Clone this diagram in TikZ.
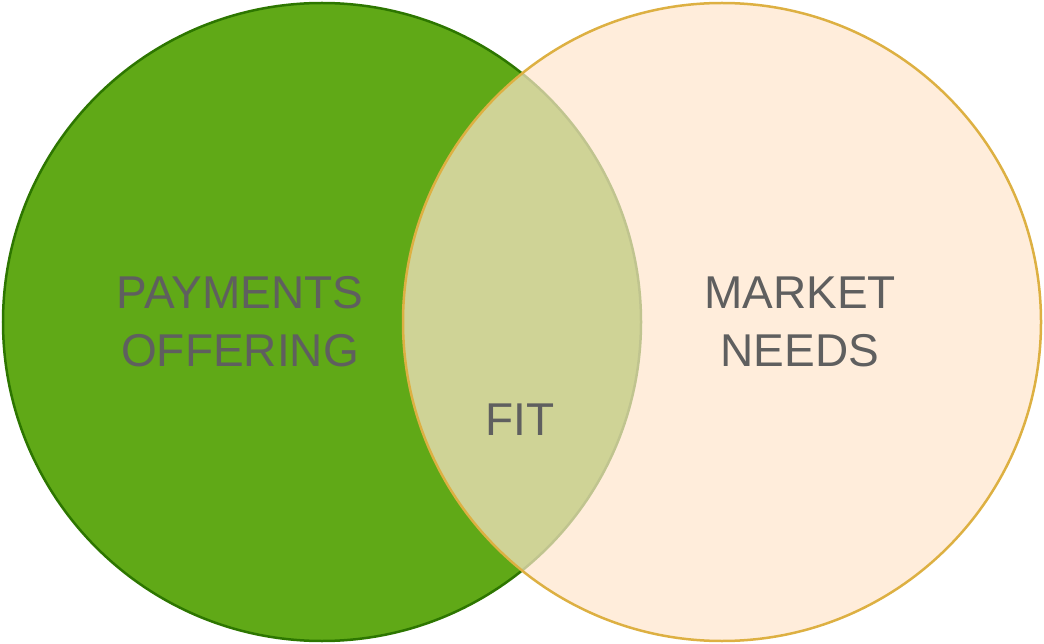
\documentclass[tikz,border=0pt]{standalone}
\usepackage{fontspec}
\setmainfont{Liberation Sans}
\definecolor{gfill}{HTML}{60A917}
\definecolor{gline}{HTML}{2D7600}
\definecolor{ofill}{HTML}{FFE6CC}
\definecolor{oline}{HTML}{DDB042}
\definecolor{txt}{HTML}{5F5F5F}
\begin{document}
\begin{tikzpicture}[x=1pt,y=-1pt,
  lbl/.style={text=txt,align=center,font=\fontsize{46}{58}\selectfont}]
\useasboundingbox (0,0) rectangle (1044,644);
\node[circle,minimum size=638pt,fill=gfill,draw=gline,line width=2.5pt,inner sep=0pt] (off) at (322,322) {};
\node[circle,minimum size=638pt,fill=ofill,fill opacity=0.7,draw=oline,line width=2.5pt,inner sep=0pt] (mkt) at (722,322) {};
\node[lbl] (t1) at (240,322) {PAYMENTS\\OFFERING};
\node[lbl] (t2) at (800,322) {MARKET\\NEEDS};
\node[lbl] (t3) at (520,420) {FIT};
\end{tikzpicture}
\end{document}
